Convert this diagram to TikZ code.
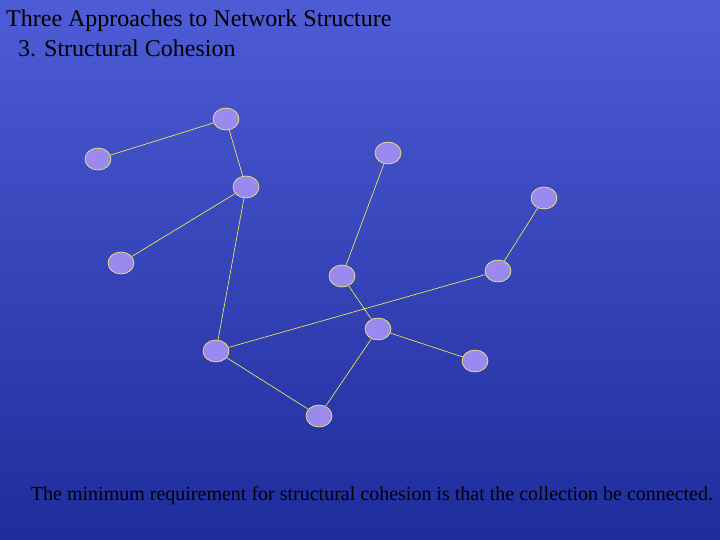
\documentclass[tikz,border=0pt]{standalone}
\usepackage{fontspec}
\setmainfont{Liberation Serif}
\usetikzlibrary{shapes.geometric}
\begin{document}
\begin{tikzpicture}[x=1pt,y=-1pt,
  nd/.style={ellipse,draw=yellow!60!white,fill=nodefill,line width=0.6pt,minimum width=26pt,minimum height=22pt,inner sep=0pt},
  ed/.style={draw=yellow!70!white,line width=0.6pt}]
\definecolor{nodefill}{HTML}{9A8AF0}
\definecolor{bgtop}{HTML}{4E5CD6}
\definecolor{bgbot}{HTML}{1E2C9C}
\fill[top color=bgtop,bottom color=bgbot] (0,0) rectangle (720,540);
\useasboundingbox (0,0) rectangle (720,540);
\node[anchor=north west,align=left,inner sep=0pt,font=\fontsize{24pt}{30pt}\selectfont] (t) at (6,10) {Three Approaches to Network Structure\\ \ \ 3. Structural Cohesion};
\node[anchor=center,font=\fontsize{20pt}{24pt}\selectfont] (b) at (372,496) {The minimum requirement for structural cohesion is that the collection be connected.};
\node[nd] (A) at (98,159) {};
\node[nd] (B) at (226,119) {};
\node[nd] (C) at (246,187) {};
\node[nd] (D) at (121,263) {};
\node[nd] (E) at (388,153) {};
\node[nd] (F) at (544,198) {};
\node[nd] (G) at (342,276) {};
\node[nd] (H) at (498,271) {};
\node[nd] (I) at (378,329) {};
\node[nd] (J) at (216,351) {};
\node[nd] (K) at (475,361) {};
\node[nd] (L) at (319,416) {};
\draw[ed] (A)--(B) (B)--(C) (C)--(D) (C)--(J) (E)--(G) (G)--(I) (F)--(H) (J)--(H) (I)--(K) (I)--(L) (J)--(L);
\end{tikzpicture}
\end{document}
